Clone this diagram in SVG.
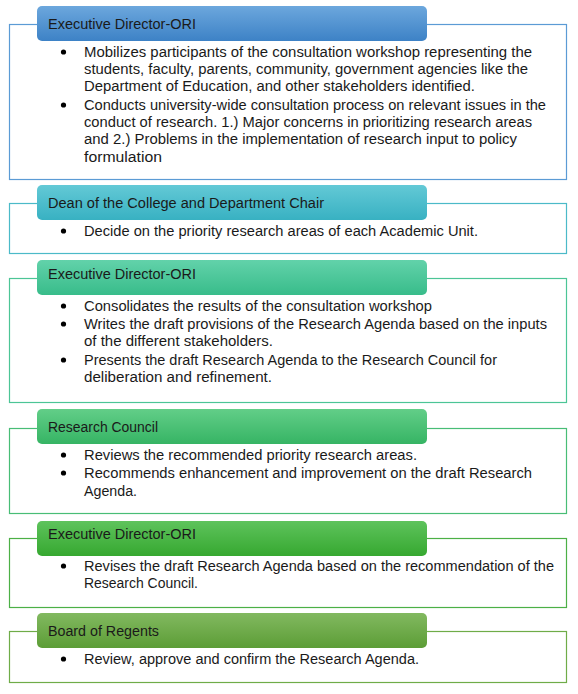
<svg xmlns="http://www.w3.org/2000/svg" width="578" height="694" viewBox="0 0 578 694">
<defs>
<linearGradient id="g1" x1="0" y1="0" x2="0" y2="1"><stop offset="0" stop-color="#6ca7dd"/><stop offset="1" stop-color="#3d82c6"/></linearGradient>
<linearGradient id="g2" x1="0" y1="0" x2="0" y2="1"><stop offset="0" stop-color="#63c9d6"/><stop offset="1" stop-color="#38b1c2"/></linearGradient>
<linearGradient id="g3" x1="0" y1="0" x2="0" y2="1"><stop offset="0" stop-color="#62d2aa"/><stop offset="1" stop-color="#38bc8a"/></linearGradient>
<linearGradient id="g4" x1="0" y1="0" x2="0" y2="1"><stop offset="0" stop-color="#62ce88"/><stop offset="1" stop-color="#36b464"/></linearGradient>
<linearGradient id="g5" x1="0" y1="0" x2="0" y2="1"><stop offset="0" stop-color="#5ec35c"/><stop offset="1" stop-color="#36a830"/></linearGradient>
<linearGradient id="g6" x1="0" y1="0" x2="0" y2="1"><stop offset="0" stop-color="#82b960"/><stop offset="1" stop-color="#5c9d36"/></linearGradient>
</defs>
<style>
text{font-family:"Liberation Sans",Arial,sans-serif;font-size:14px;fill:#1a1a1a}
.box{fill:#fff;stroke-width:1.2}
.hd{stroke:none}
.b{fill:#000}
</style>
<rect width="578" height="694" fill="#fff"/>
<g id="connectors"></g>

<g id="node1">
<rect class="box" x="9.5" y="24.5" width="557" height="155" stroke="#5b9bd5"/>
<rect class="hd" x="37" y="6" width="390" height="35" rx="5" fill="url(#g1)"/>
<text x="48" y="29" textLength="148" lengthAdjust="spacingAndGlyphs">Executive Director-ORI</text>
<circle class="b" cx="63.5" cy="52" r="2.6"/>
<text x="84" y="57" textLength="448" lengthAdjust="spacingAndGlyphs">Mobilizes participants of the consultation workshop representing the</text>
<text x="84" y="74" textLength="444" lengthAdjust="spacingAndGlyphs">students, faculty, parents, community, government agencies like the</text>
<text x="84" y="91" textLength="391" lengthAdjust="spacingAndGlyphs">Department of Education, and other stakeholders identified.</text>
<circle class="b" cx="63.5" cy="105" r="2.6"/>
<text x="84" y="110" textLength="462" lengthAdjust="spacingAndGlyphs">Conducts university-wide consultation process on relevant issues in the</text>
<text x="84" y="127" textLength="448" lengthAdjust="spacingAndGlyphs">conduct of research. 1.) Major concerns in prioritizing research areas</text>
<text x="84" y="144" textLength="433" lengthAdjust="spacingAndGlyphs">and 2.) Problems in the implementation of research input to policy</text>
<text x="84" y="162" textLength="78" lengthAdjust="spacingAndGlyphs">formulation</text>
</g>

<g id="node2">
<rect class="box" x="9.5" y="203.5" width="557" height="50" stroke="#4bbac8"/>
<rect class="hd" x="37" y="185" width="390" height="35" rx="5" fill="url(#g2)"/>
<text x="48" y="208" textLength="276" lengthAdjust="spacingAndGlyphs">Dean of the College and Department Chair</text>
<circle class="b" cx="63.5" cy="231" r="2.6"/>
<text x="84" y="236" textLength="394" lengthAdjust="spacingAndGlyphs">Decide on the priority research areas of each Academic Unit.</text>
</g>

<g id="node3">
<rect class="box" x="9.5" y="278.5" width="557" height="124" stroke="#4cc596"/>
<rect class="hd" x="37" y="260" width="390" height="35" rx="5" fill="url(#g3)"/>
<text x="48" y="279" textLength="148" lengthAdjust="spacingAndGlyphs">Executive Director-ORI</text>
<circle class="b" cx="63.5" cy="306" r="2.6"/>
<text x="84" y="311" textLength="348" lengthAdjust="spacingAndGlyphs">Consolidates the results of the consultation workshop</text>
<circle class="b" cx="63.5" cy="324" r="2.6"/>
<text x="84" y="329" textLength="463" lengthAdjust="spacingAndGlyphs">Writes the draft provisions of the Research Agenda based on the inputs</text>
<text x="84" y="346" textLength="189" lengthAdjust="spacingAndGlyphs">of the different stakeholders.</text>
<circle class="b" cx="63.5" cy="360" r="2.6"/>
<text x="84" y="365" textLength="413" lengthAdjust="spacingAndGlyphs">Presents the draft Research Agenda to the Research Council for</text>
<text x="84" y="382" textLength="188" lengthAdjust="spacingAndGlyphs">deliberation and refinement.</text>
</g>

<g id="node4">
<rect class="box" x="9.5" y="428.5" width="557" height="85" stroke="#48bd76"/>
<rect class="hd" x="37" y="409" width="390" height="35" rx="5" fill="url(#g4)"/>
<text x="48" y="432" textLength="110" lengthAdjust="spacingAndGlyphs">Research Council</text>
<circle class="b" cx="63.5" cy="455" r="2.6"/>
<text x="84" y="460" textLength="333" lengthAdjust="spacingAndGlyphs">Reviews the recommended priority research areas.</text>
<circle class="b" cx="63.5" cy="473" r="2.6"/>
<text x="84" y="478" textLength="448" lengthAdjust="spacingAndGlyphs">Recommends enhancement and improvement on the draft Research</text>
<text x="84" y="496" textLength="53" lengthAdjust="spacingAndGlyphs">Agenda.</text>
</g>

<g id="node5">
<rect class="box" x="9.5" y="538.5" width="557" height="69" stroke="#4cb046"/>
<rect class="hd" x="37" y="521" width="390" height="35" rx="5" fill="url(#g5)"/>
<text x="48" y="539" textLength="148" lengthAdjust="spacingAndGlyphs">Executive Director-ORI</text>
<circle class="b" cx="63.5" cy="566" r="2.6"/>
<text x="84" y="571" textLength="470" lengthAdjust="spacingAndGlyphs">Revises the draft Research Agenda based on the recommendation of the</text>
<text x="84" y="588" textLength="114" lengthAdjust="spacingAndGlyphs">Research Council.</text>
</g>

<g id="node6">
<rect class="box" x="9.5" y="631.5" width="557" height="51" stroke="#6fac48"/>
<rect class="hd" x="37" y="613" width="390" height="35" rx="5" fill="url(#g6)"/>
<text x="48" y="636" textLength="111" lengthAdjust="spacingAndGlyphs">Board of Regents</text>
<circle class="b" cx="63.5" cy="659" r="2.6"/>
<text x="84" y="664" textLength="335" lengthAdjust="spacingAndGlyphs">Review, approve and confirm the Research Agenda.</text>
</g>
</svg>
